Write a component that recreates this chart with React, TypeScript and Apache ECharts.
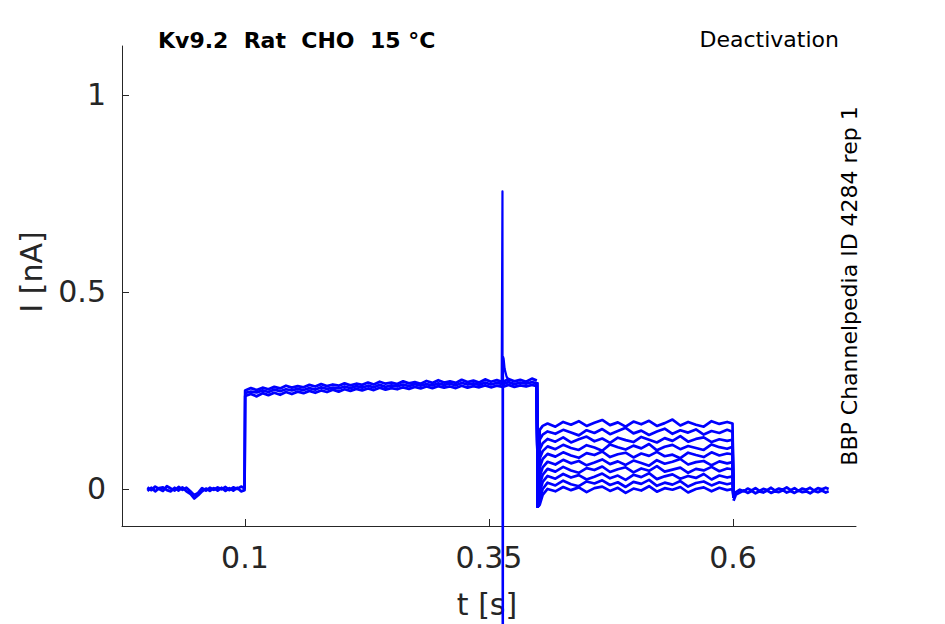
import React, { useEffect, useRef } from "react";
import * as echarts from "echarts";

// ---- tick labels ----
const xTicks = [0.1, 0.35, 0.6];
const xTickLabels = ["0.1", "0.35", "0.6"];
const yTicks = [0, 0.5, 1];
const yTickLabels = ["0", "0.5", "1"];

// ---- pre-pulse holding (s, nA), two overlapping sweeps ----
const preT = [0, 0.004, 0.008, 0.012, 0.016, 0.02, 0.024, 0.028, 0.032, 0.036, 0.04, 0.044, 0.048, 0.052, 0.056, 0.06, 0.064, 0.068, 0.072, 0.076, 0.08, 0.084, 0.088, 0.092, 0.096, 0.0995];
const preA = [0.004, -0.003, 0.006, 0.0, -0.005, 0.007, 0.001, -0.004, 0.005, -0.002, 0.003, -0.006, -0.016, -0.01, 0.002, -0.004, 0.003, -0.002, 0.004, -0.001, 0.005, -0.003, 0.004, 0.0, 0.006, 0.002];
const preB = [-0.005, 0.003, -0.006, 0.002, 0.004, -0.003, -0.006, 0.003, -0.004, 0.004, -0.006, -0.012, -0.024, -0.016, -0.006, 0.001, -0.005, 0.002, -0.004, 0.003, -0.005, 0.002, -0.004, 0.003, -0.006, -0.003];

// ---- activating pulse ----
const pulseT = [0.1002, 0.106, 0.112, 0.118, 0.124, 0.13, 0.136, 0.142, 0.148, 0.154, 0.16, 0.166, 0.172, 0.178, 0.184, 0.19, 0.196, 0.202, 0.208, 0.214, 0.22, 0.226, 0.232, 0.238, 0.244, 0.25, 0.256, 0.262, 0.268, 0.274, 0.28, 0.286, 0.292, 0.298, 0.304, 0.31, 0.316, 0.322, 0.328, 0.334, 0.34, 0.346, 0.352, 0.358, 0.364, 0.37, 0.376, 0.382, 0.388, 0.394, 0.399];
const pulseA = [0.25, 0.256, 0.251, 0.257, 0.253, 0.259, 0.255, 0.262, 0.257, 0.261, 0.258, 0.264, 0.26, 0.266, 0.261, 0.265, 0.262, 0.268, 0.263, 0.267, 0.264, 0.27, 0.265, 0.272, 0.267, 0.27, 0.266, 0.273, 0.268, 0.271, 0.267, 0.274, 0.269, 0.276, 0.27, 0.273, 0.269, 0.277, 0.271, 0.275, 0.27, 0.278, 0.272, 0.276, 0.271, 0.279, 0.273, 0.277, 0.272, 0.28, 0.275];
const pulseC = [0.244, 0.247, 0.245, 0.25, 0.246, 0.252, 0.248, 0.253, 0.25, 0.254, 0.251, 0.256, 0.252, 0.258, 0.254, 0.257, 0.255, 0.26, 0.256, 0.261, 0.257, 0.262, 0.258, 0.264, 0.259, 0.263, 0.26, 0.265, 0.261, 0.266, 0.262, 0.266, 0.263, 0.268, 0.264, 0.267, 0.263, 0.269, 0.265, 0.268, 0.264, 0.27, 0.265, 0.269, 0.266, 0.271, 0.266, 0.27, 0.267, 0.271, 0.268];
const pulseB = [0.236, 0.241, 0.235, 0.243, 0.238, 0.244, 0.239, 0.246, 0.241, 0.247, 0.243, 0.249, 0.244, 0.25, 0.246, 0.252, 0.247, 0.253, 0.249, 0.254, 0.25, 0.255, 0.251, 0.257, 0.252, 0.256, 0.253, 0.258, 0.254, 0.259, 0.255, 0.26, 0.256, 0.261, 0.257, 0.26, 0.256, 0.262, 0.257, 0.261, 0.258, 0.263, 0.258, 0.262, 0.259, 0.264, 0.259, 0.263, 0.26, 0.264, 0.261];

// ---- artefact spike in one sweep ----
const spikeT = [0.363, 0.3638, 0.3641, 0.3644, 0.365, 0.366, 0.368, 0.371];
const spikeV = [0.27, 0.755, -1.8, 0.335, 0.33, 0.305, 0.285, 0.272];

// ---- deactivation test steps ----
const testT = [0.399, 0.4, 0.402, 0.405, 0.41, 0.418, 0.426, 0.434, 0.442, 0.45, 0.458, 0.466, 0.474, 0.482, 0.49, 0.498, 0.506, 0.514, 0.522, 0.53, 0.538, 0.546, 0.554, 0.562, 0.57, 0.578, 0.586, 0.594, 0.5995, 0.6005];
const test1 = [0.27, -0.045, 0.15, 0.16, 0.166, 0.158, 0.17, 0.163, 0.172, 0.16, 0.168, 0.175, 0.162, 0.169, 0.158, 0.171, 0.164, 0.173, 0.16, 0.167, 0.176, 0.161, 0.17, 0.163, 0.158, 0.172, 0.165, 0.17, 0.166, -0.022];
const test2 = [0.27, -0.045, 0.125, 0.138, 0.146, 0.14, 0.15, 0.143, 0.136, 0.149, 0.142, 0.152, 0.139, 0.147, 0.155, 0.141, 0.148, 0.137, 0.146, 0.153, 0.14, 0.149, 0.143, 0.151, 0.138, 0.147, 0.142, 0.15, 0.145, -0.022];
const test3 = [0.27, -0.045, 0.1, 0.116, 0.127, 0.12, 0.131, 0.118, 0.126, 0.133, 0.121, 0.128, 0.117, 0.13, 0.124, 0.119, 0.132, 0.125, 0.118, 0.129, 0.122, 0.134, 0.12, 0.127, 0.131, 0.119, 0.126, 0.122, 0.125, -0.022];
const test4 = [0.27, -0.045, 0.078, 0.096, 0.108, 0.101, 0.112, 0.104, 0.099, 0.111, 0.105, 0.097, 0.113, 0.106, 0.1, 0.11, 0.103, 0.114, 0.098, 0.107, 0.112, 0.101, 0.109, 0.104, 0.099, 0.113, 0.106, 0.102, 0.107, -0.022];
const test5 = [0.27, -0.045, 0.055, 0.076, 0.089, 0.082, 0.093, 0.085, 0.079, 0.091, 0.086, 0.095, 0.081, 0.088, 0.092, 0.08, 0.09, 0.084, 0.094, 0.083, 0.087, 0.078, 0.092, 0.086, 0.081, 0.093, 0.085, 0.09, 0.088, -0.022];
const test6 = [0.27, -0.045, 0.032, 0.055, 0.069, 0.062, 0.074, 0.065, 0.071, 0.06, 0.067, 0.075, 0.063, 0.07, 0.061, 0.072, 0.066, 0.059, 0.073, 0.064, 0.069, 0.076, 0.062, 0.068, 0.071, 0.06, 0.07, 0.065, 0.068, -0.022];
const test7 = [0.27, -0.045, 0.012, 0.036, 0.051, 0.044, 0.056, 0.047, 0.041, 0.053, 0.048, 0.057, 0.043, 0.05, 0.055, 0.042, 0.052, 0.046, 0.058, 0.044, 0.049, 0.054, 0.041, 0.051, 0.047, 0.056, 0.045, 0.052, 0.05, -0.022];
const test8 = [0.27, -0.045, -0.008, 0.018, 0.033, 0.026, 0.038, 0.029, 0.035, 0.024, 0.031, 0.039, 0.027, 0.034, 0.023, 0.036, 0.03, 0.04, 0.025, 0.032, 0.037, 0.026, 0.033, 0.028, 0.038, 0.024, 0.034, 0.029, 0.032, -0.022];
const test9 = [0.27, -0.045, -0.025, 0.0, 0.016, 0.009, 0.021, 0.012, 0.007, 0.019, 0.014, 0.022, 0.01, 0.017, 0.005, 0.018, 0.013, 0.023, 0.008, 0.016, 0.011, 0.02, 0.006, 0.015, 0.019, 0.009, 0.017, 0.012, 0.015, -0.022];
const test10 = [0.27, -0.045, -0.04, -0.015, 0.0, -0.006, 0.005, -0.003, 0.004, -0.008, 0.002, 0.006, -0.005, 0.003, -0.01, 0.001, -0.004, 0.007, -0.007, 0.002, -0.002, 0.005, -0.009, 0.0, 0.004, -0.006, 0.003, -0.003, 0.0, -0.022];
const testSweeps = [test1, test2, test3, test4, test5, test6, test7, test8, test9, test10];

// ---- return to holding ----
const tailT = [0.6005, 0.603, 0.607, 0.611, 0.615, 0.619, 0.623, 0.627, 0.631, 0.635, 0.639, 0.643, 0.647, 0.651, 0.655, 0.659, 0.663, 0.667, 0.671, 0.675, 0.679, 0.683, 0.687, 0.691, 0.695, 0.698];
const tailA = [-0.022, -0.008, -0.002, -0.006, 0.001, -0.004, 0.002, -0.005, 0.0, -0.003, 0.003, -0.004, 0.001, -0.002, 0.004, -0.003, 0.002, -0.005, 0.001, -0.002, 0.003, -0.004, 0.002, -0.001, 0.003, 0.0];
const tailB = [-0.03, -0.014, -0.009, -0.004, -0.01, -0.005, -0.011, -0.006, -0.009, -0.004, -0.01, -0.006, -0.008, -0.003, -0.009, -0.005, -0.01, -0.004, -0.008, -0.006, -0.011, -0.005, -0.008, -0.004, -0.009, -0.006];

const BLUE = "#0000ff";
const AXIS = "#262626";
const FONT = "DejaVu Sans";

const zip = (t: number[], v: number[]) => t.map((x, i) => [x, v[i]]);

function lineSeries(data: number[][], width = 2.8) {
  return {
    type: "line",
    data,
    showSymbol: false,
    symbol: "none",
    clip: false,
    silent: true,
    lineStyle: { color: BLUE, width, join: "round" },
    z: 3,
  };
}

export default function App() {
  const ref = useRef<HTMLDivElement>(null);
  useEffect(() => {
    const chart = echarts.init(ref.current!, null, { renderer: "svg" });
    const series: any[] = [
      lineSeries(zip([...preT, ...pulseT], [...preA, ...pulseA])),
      lineSeries(zip([...preT, ...pulseT], [...preB, ...pulseB])),
      lineSeries(zip(pulseT, pulseC)),
      lineSeries(zip(spikeT, spikeV), 2.2),
      ...testSweeps.map((s) => lineSeries(zip(testT, s), 2.7)),
      lineSeries(zip(tailT, tailA)),
      lineSeries(zip(tailT, tailB)),
    ];
    chart.setOption({
      animation: false,
      backgroundColor: "#ffffff",
      textStyle: { fontFamily: FONT },
      grid: { left: 122, top: 46, width: 734, height: 480, containLabel: false },
      xAxis: {
        type: "value",
        min: -0.026,
        max: 0.726,
        axisLine: { show: true, onZero: false, lineStyle: { color: AXIS, width: 1 } },
        axisTick: { show: true, inside: true, length: 7, customValues: xTicks, lineStyle: { color: AXIS } },
        axisLabel: {
          customValues: xTicks,
          color: AXIS,
          fontSize: 30,
          fontFamily: FONT,
          margin: 16,
          formatter: (v: number) => xTickLabels[xTicks.findIndex((t) => Math.abs(t - v) < 1e-6)] ?? "",
        },
        splitLine: { show: false },
      },
      yAxis: {
        type: "value",
        min: -0.094,
        max: 1.124,
        axisLine: { show: true, onZero: false, lineStyle: { color: AXIS, width: 1 } },
        axisTick: { show: true, inside: true, length: 7, customValues: yTicks, lineStyle: { color: AXIS } },
        axisLabel: {
          customValues: yTicks,
          color: AXIS,
          fontSize: 30,
          fontFamily: FONT,
          margin: 16,
          formatter: (v: number) => yTickLabels[yTicks.findIndex((t) => Math.abs(t - v) < 1e-6)] ?? "",
        },
        splitLine: { show: false },
      },
      graphic: [
        {
          type: "text",
          x: 487,
          y: 604,
          z: 0,
          style: { text: "t [s]", fontSize: 30, fontFamily: FONT, fill: AXIS, align: "center", verticalAlign: "middle" },
        },
        {
          type: "text",
          x: 31,
          y: 272,
          z: 0,
          rotation: Math.PI / 2,
          style: { text: "I [nA]", fontSize: 30, fontFamily: FONT, fill: AXIS, align: "center", verticalAlign: "middle" },
        },
        {
          type: "text",
          x: 158,
          y: 40,
          z: 0,
          style: { text: "Kv9.2  Rat  CHO  15 °C", fontSize: 22, fontWeight: "bold", fontFamily: FONT, fill: "#000000", align: "left", verticalAlign: "middle" },
        },
        {
          type: "text",
          x: 839,
          y: 39,
          z: 0,
          style: { text: "Deactivation", fontSize: 22, fontFamily: FONT, fill: "#000000", align: "right", verticalAlign: "middle" },
        },
        {
          type: "text",
          x: 849,
          y: 286,
          z: 0,
          rotation: Math.PI / 2,
          style: { text: "BBP Channelpedia ID 4284 rep 1", fontSize: 22, fontFamily: FONT, fill: "#000000", align: "center", verticalAlign: "middle" },
        },
      ],
      series,
    });
    return () => chart.dispose();
  }, []);
  return (
    <div
      ref={ref}
      style={{ position: "fixed", left: 0, top: 0, width: 945, height: 624, background: "#ffffff" }}
    />
  );
}
